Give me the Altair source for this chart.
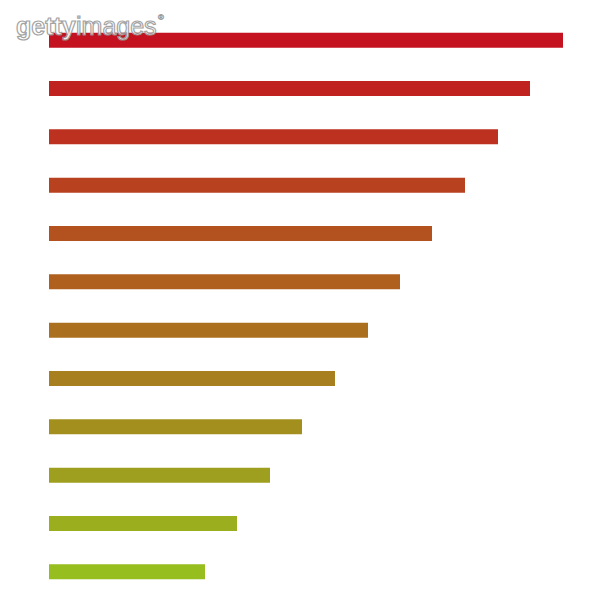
import altair as alt
import pandas as pd

categories = [f"B{i+1:02d}" for i in range(12)]
values = [514, 481, 449, 416, 383, 351, 319, 286, 253, 221, 188, 156]
colors = ["#C41220", "#C0221F", "#BC311F", "#B8411F", "#B3511F", "#AF601F",
          "#AB701F", "#A77F1F", "#A38F1E", "#9E9F1E", "#9AAE1E", "#96BE1E"]

df = pd.DataFrame({"cat": categories, "val": values, "col": colors})

bars = alt.Chart(df).mark_bar().encode(
    y=alt.Y("cat:N", sort=categories, axis=None,
            scale=alt.Scale(paddingInner=0.69, paddingOuter=0.345)),
    x=alt.X("val:Q", axis=None, scale=alt.Scale(domain=[0, 514], nice=False, zero=True)),
    color=alt.Color("col:N", scale=None),
)

wm1 = alt.Chart(pd.DataFrame({"t": ["getty"]})).mark_text(
    font="Liberation Sans", fontWeight="bold", fontSize=25, align="left", baseline="alphabetic",
    fill="#ffffff", stroke="#9a9a9a", strokeWidth=1.2, opacity=0.9
).encode(x=alt.value(-33), y=alt.value(19), text="t:N")

wm2 = alt.Chart(pd.DataFrame({"t": ["images"]})).mark_text(
    font="Liberation Sans", fontWeight="normal", fontSize=25, align="left", baseline="alphabetic",
    fill="#ffffff", stroke="#9a9a9a", strokeWidth=1.2, opacity=0.9
).encode(x=alt.value(27), y=alt.value(19), text="t:N")

wm3 = alt.Chart(pd.DataFrame({"t": ["®"]})).mark_text(
    font="Liberation Sans", fontSize=8, align="left", baseline="alphabetic",
    fill="#ffffff", stroke="#9a9a9a", strokeWidth=0.6
).encode(x=alt.value(109), y=alt.value(4), text="t:N")

chart = alt.layer(bars, wm1, wm2, wm3).properties(
    width=514, height=580,
    background="white",
    autosize=alt.AutoSizeParams(type="none"),
    padding={"left": 41, "top": 8, "right": 0, "bottom": 0},
).configure_view(strokeWidth=0, stroke="transparent")

chart.save("out.html", embed_options={"renderer": "svg", "actions": False})
